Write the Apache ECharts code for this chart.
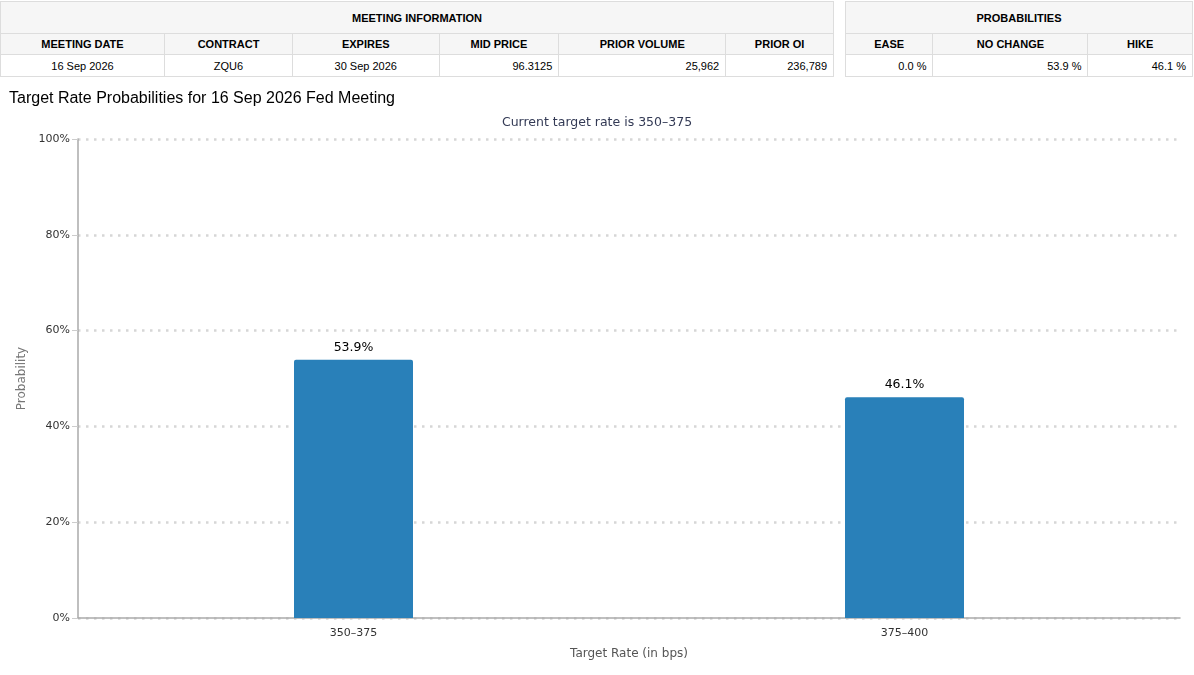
<!DOCTYPE html>
<html>
<head>
<meta charset="utf-8">
<title>Target Rate Probabilities</title>
<script src="https://cdn.jsdelivr.net/npm/echarts@6/dist/echarts.min.js"></script>
<style>
    body { margin: 0; background: #fff; font-family: "Liberation Sans", Arial, sans-serif; }
    table { position: absolute; top: 1px; border-collapse: collapse; font-size: 11px; color: #000; }
    td, th { border: 1px solid #ddd; padding: 0 6px; }
    th { background: #f6f6f6; font-weight: bold; text-align: center; height: 20px; }
    th.group { height: 31px; }
    td { height: 21px; text-align: right; }
    td.c { text-align: center; }
    #meeting { left: 0; width: 834px; }
    #probs { left: 845px; width: 348px; }
    #chart { position: absolute; left: 0; top: 80px; width: 1194px; height: 595px; }
</style>
</head>
<body>
<table id="meeting"></table>
<table id="probs"></table>
<div id="chart"></div>
<script>
// tables up top
var meetingCols = ['MEETING DATE', 'CONTRACT', 'EXPIRES', 'MID PRICE', 'PRIOR VOLUME', 'PRIOR OI'];
var meetingRow = ['16 Sep 2026', 'ZQU6', '30 Sep 2026', '96.3125', '25,962', '236,789'];
var meetingWidths = [168, 124, 148, 118, 172, 104];
var meetingAlign = ['c', 'c', 'c', 'r', 'r', 'r'];

var probCols = ['EASE', 'NO CHANGE', 'HIKE'];
var probRow = ['0.0 %', '53.9 %', '46.1 %'];
var probWidths = [83, 160, 104];

// chart data
var categories = ['350\u2013375', '375\u2013400'];
var probabilities = [53.9, 46.1];
var yTicks = [0, 20, 40, 60, 80, 100];

function buildTable(id, title, cols, row, widths, align) {
    var html = '<tr><th class="group" colspan="' + cols.length + '">' + title + '</th></tr><tr>';
    cols.forEach(function (c, i) {
        html += '<th style="width:' + widths[i] + 'px">' + c + '</th>';
    });
    html += '</tr><tr>';
    row.forEach(function (v, i) {
        html += '<td class="' + (align ? align[i] : 'r') + '">' + v + '</td>';
    });
    html += '</tr>';
    document.getElementById(id).innerHTML = html;
}
buildTable('meeting', 'MEETING INFORMATION', meetingCols, meetingRow, meetingWidths, meetingAlign);
buildTable('probs', 'PROBABILITIES', probCols, probRow, probWidths);

(function () {
    var myChart = echarts.init(document.getElementById('chart'));
    var option = {
        animation: false,
        title: [{
            text: 'Target Rate Probabilities for 16 Sep 2026 Fed Meeting',
            left: 4,
            top: 6,
            textStyle: { fontFamily: 'Liberation Sans', fontSize: 16, fontWeight: 'normal', color: '#000' }
        }, {
            text: 'Current target rate is ' + categories[0],
            left: 'center',
            top: 31,
            textStyle: { fontFamily: 'DejaVu Sans', fontSize: 12.5, fontWeight: 'normal', color: '#333a55' }
        }],
        grid: { left: 78, right: 14, top: 59, bottom: 57 },
        xAxis: {
            type: 'category',
            data: categories,
            name: 'Target Rate (in bps)',
            nameLocation: 'middle',
            nameGap: 30,
            nameTextStyle: { fontFamily: 'DejaVu Sans', fontSize: 12, color: '#555' },
            axisLine: { lineStyle: { color: '#aaa', width: 1.5 } },
            axisTick: { alignWithLabel: true, length: 6, lineStyle: { color: '#ccc' } },
            axisLabel: { fontFamily: 'DejaVu Sans', fontSize: 11, color: '#333', margin: 10 }
        },
        yAxis: {
            type: 'value',
            min: yTicks[0],
            max: yTicks[yTicks.length - 1],
            interval: yTicks[1] - yTicks[0],
            name: 'Probability',
            nameLocation: 'middle',
            nameGap: 49,
            nameTextStyle: { fontFamily: 'DejaVu Sans', fontSize: 12, color: '#777' },
            axisLine: { show: true, lineStyle: { color: '#aaa', width: 1.5 } },
            axisTick: { show: true, length: 6, lineStyle: { color: '#ccc' } },
            axisLabel: {
                fontFamily: 'DejaVu Sans', fontSize: 11, color: '#333', margin: 8,
                formatter: '{value}%'
            },
            splitLine: { lineStyle: { color: '#d6d6d6', width: 2.5, type: [2.5, 5.5] } }
        },
        series: [{
            type: 'bar',
            data: probabilities,
            barWidth: 119,
            itemStyle: { color: '#2980b9', borderRadius: [2, 2, 0, 0] },
            label: {
                show: true,
                position: 'top',
                distance: 6,
                formatter: '{c}%',
                fontFamily: 'DejaVu Sans',
                fontSize: 12.5,
                color: '#000'
            }
        }]
    };
    myChart.setOption(option);
    window.addEventListener('resize', function () {
        myChart.resize();
    });
})();
</script>
</body>
</html>
